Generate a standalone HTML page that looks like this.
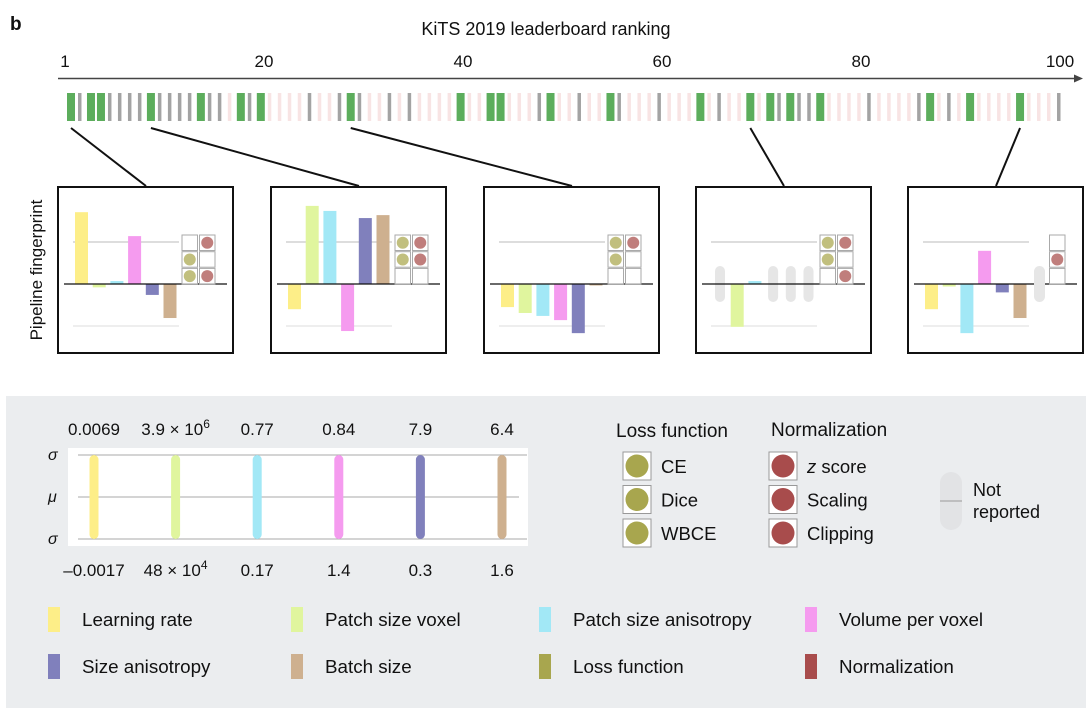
<!DOCTYPE html>
<html><head><meta charset="utf-8"><style>
body{margin:0;background:#fff;width:1091px;height:711px;overflow:hidden}
svg text{font-family:"Liberation Sans",sans-serif;fill:#111}
</style></head><body>
<svg id="fig" width="1091" height="711" viewBox="0 0 1091 711">
<text x="10" y="30" font-size="19" font-weight="bold">b</text>
<text x="546" y="35" font-size="18" text-anchor="middle">KiTS 2019 leaderboard ranking</text>
<line x1="58" y1="78.5" x2="1078" y2="78.5" stroke="#444" stroke-width="1.5"/>
<polygon points="1083,78.5 1074,74.5 1074,82.5" fill="#444"/>
<g id="ticks"></g>
<g id="strip"></g>
<g id="links"></g>
<g id="boxes"></g>
<text transform="translate(42,270) rotate(-90)" font-size="17" text-anchor="middle">Pipeline fingerprint</text>

<rect x="6" y="396" width="1080" height="312" fill="#ebedef"/>
<rect x="68" y="448" width="460" height="98" fill="#fff"/>
<g stroke="#aaa" stroke-width="1">
<line x1="78" y1="455" x2="527" y2="455"/><line x1="78" y1="497" x2="519" y2="497"/><line x1="78" y1="539" x2="527" y2="539"/>
</g>
<g font-family="Liberation Serif,serif" font-style="italic" font-size="16">
<text x="48" y="460">σ</text>
<text x="48" y="502">μ</text>
<text x="48" y="544">σ</text>
</g>
<g id="ranges"></g>

<g font-size="19">
<text x="616" y="437">Loss function</text>
<text x="771" y="436">Normalization</text>
</g>
<g id="catlegend"></g>
<g>
<rect x="940" y="472" width="22" height="58" rx="11" fill="#e2e3e5"/>
<line x1="940" y1="501" x2="962" y2="501" stroke="#999"/>
<text x="973" y="496" font-size="18">Not</text>
<text x="973" y="518" font-size="18">reported</text>
</g>
<g id="swatches"></g>
</svg>
<script>
const NS="http://www.w3.org/2000/svg";
function mk(tag,attrs,parent){const e=document.createElementNS(NS,tag);for(const k in attrs)e.setAttribute(k,attrs[k]);parent.appendChild(e);return e;}
const tickLabels=[1,20,40,60,80,100];
const stripCodes="GgGGggggGggggGggpGgGppppgppgGgppgpgppppGppGGpppgGppgppGgpppgpppGpgppGpGgGggGppppgppppgGpgpGppppGpppg";
const boxRanks=[1,9,29,69,96];
const paramNames=["learning-rate","patch-size-voxel","patch-size-anisotropy","volume-per-voxel","size-anisotropy","batch-size"];
const colors=["#fdee88","#e0f59e","#a2e8f6","#f59bef","#8080bc","#ceb08f"];
const box1=[1.71,-0.08,0.07,1.14,-0.26,-0.81];
const box2=[-0.6,1.86,1.74,-1.12,1.57,1.64];
const box3=[-0.55,-0.69,-0.76,-0.86,-1.17,0];
const box4=[null,-1.02,0.07,null,null,null];
const box5=[-0.6,-0.06,-1.17,0.79,-0.2,-0.81];
const boxVals=[box1,box2,box3,box4,box5];
const boxLoss=[[0,1,1],[1,1,0],[1,1,0],[1,1,0],null];
const boxNorm=[[1,0,1],[1,1,0],[1,0,0],[1,0,1],[0,1,0]];
const rangeTop=["0.0069","3.9 × 10<tspan dy='-7' font-size='12'>6</tspan>","0.77","0.84","7.9","6.4"];
const rangeBottom=["–0.0017","48 × 10<tspan dy='-7' font-size='12'>4</tspan>","0.17","1.4","0.3","1.6"];
const lossNames=["CE","Dice","WBCE"];
const normNames=["z score","Scaling","Clipping"];
const legendNames=["Learning rate","Patch size voxel","Patch size anisotropy","Volume per voxel","Size anisotropy","Batch size","Loss function","Normalization"];

const rankX=r=>67+(r-1)*9.99;
const tickX=n=>n===1?65:65+n*9.95;
const T=document.getElementById('ticks');
tickLabels.forEach(n=>{const t=mk('text',{x:tickX(n),y:67,'font-size':17,'text-anchor':'middle'},T);t.textContent=n;

});
const S=document.getElementById('strip');
[...stripCodes].forEach((c,i)=>{const x=rankX(i+1);
 const w=c==='G'?8:3.5; const col=c==='G'?'#5cad5c':(c==='g'?'#a3a3a3':'#f8e4e4');
 const r=mk('rect',{x:c==='G'?x:x+1,y:93,width:w,height:28,fill:col},S);
 
 });
const boxL=[58,271,484,696,908];
const L=document.getElementById('links');
boxRanks.forEach((r,i)=>{const l=mk('line',{x1:rankX(r)+4,y1:128,x2:boxL[i]+88,y2:186,stroke:'#111','stroke-width':2},L);
 
 });
const B=document.getElementById('boxes');
const base=284, sig=42, vy=v=>base-v*sig;
boxVals.forEach((vals,bi)=>{const Lx=boxL[bi];
 const g=mk('g',{},B);
 
 
 mk('rect',{x:Lx,y:187,width:175,height:166,fill:'#fff',stroke:'#111','stroke-width':2},g);
 mk('line',{x1:Lx+15,y1:base-sig,x2:Lx+121,y2:base-sig,stroke:'#bbb'},g);
 mk('line',{x1:Lx+15,y1:base+sig,x2:Lx+121,y2:base+sig,stroke:'#ddd'},g);
 vals.forEach((v,k)=>{const x=Lx+17+k*17.7;
  let r;
  if(v===null){r=mk('rect',{x:x+2,y:base-18,width:10,height:36,rx:5,fill:'#e6e6e6'},g);}
  else{const y1=Math.min(vy(v),base),h=Math.max(Math.abs(vy(v)-base),1.5);
   r=mk('rect',{x:x,y:y1,width:13,height:h,fill:colors[k]},g);}
  
  });
 mk('line',{x1:Lx+6,y1:base,x2:Lx+169,y2:base,stroke:'#111','stroke-width':1.3},g);
 const gx=Lx+124;
 const cols=[boxLoss[bi],boxNorm[bi]];
 cols.forEach((col,ci)=>{const cx=gx+ci*17.5;
  if(col===null){const p=mk('rect',{x:cx+2,y:base-18,width:11,height:36,rx:5.5,fill:'#e6e6e6'},g);
   
   return;}
  col.forEach((on,ri)=>{const cy=235+ri*16.7;
   const c=mk('rect',{x:cx,y:cy,width:15.5,height:15.5,fill:'#fff',stroke:'#aaa','stroke-width':1},g);
   
   
   if(on)mk('circle',{cx:cx+7.75,cy:cy+7.75,r:6,fill:ci?'#c07e7c':'#c1bf7e'},g);});});
});
const R=document.getElementById('ranges');
const rx=k=>94+k*81.6;
colors.forEach((c,k)=>{const p=mk('rect',{x:rx(k)-4.5,y:455,width:9,height:84,rx:4.5,fill:c},R);
 
 
 const t=mk('text',{x:rx(k),y:435,'font-size':17,'text-anchor':'middle'},R);t.innerHTML=rangeTop[k];
 
 
 const b=mk('text',{x:rx(k),y:576,'font-size':17,'text-anchor':'middle'},R);b.innerHTML=rangeBottom[k];
 
 });
const C=document.getElementById('catlegend');
[[lossNames,623,'#a8a64e','loss'],[normNames,769,'#a84c4c','norm']].forEach(([names,x,col,key])=>{
 names.forEach((n,i)=>{const y=452+i*33.5;
  const g=mk('g',{},C);
  
  
  mk('rect',{x:x,y:y,width:28,height:28,fill:'#fff',stroke:'#999'},g);
  mk('circle',{cx:x+14,cy:y+14,r:11.5,fill:col},g);
  const t=mk('text',{x:x+38,y:y+21,'font-size':18.5},g);
  t.innerHTML=n==='z score'?"<tspan font-style='italic'>z</tspan> score":n;});});
const W=document.getElementById('swatches');
const swCols=colors.concat(['#a8a64e','#a84c4c']);
const swX=[48,291,539,805];
legendNames.forEach((n,i)=>{const x=swX[i%4],y=i<4?607:654;
 const g=mk('g',{},W);
 
 
 mk('rect',{x:x,y:y,width:12,height:25,fill:swCols[i]},g);
 const t=mk('text',{x:x+34,y:y+19,'font-size':18.8},g);t.textContent=n;});
</script>
</body></html>
